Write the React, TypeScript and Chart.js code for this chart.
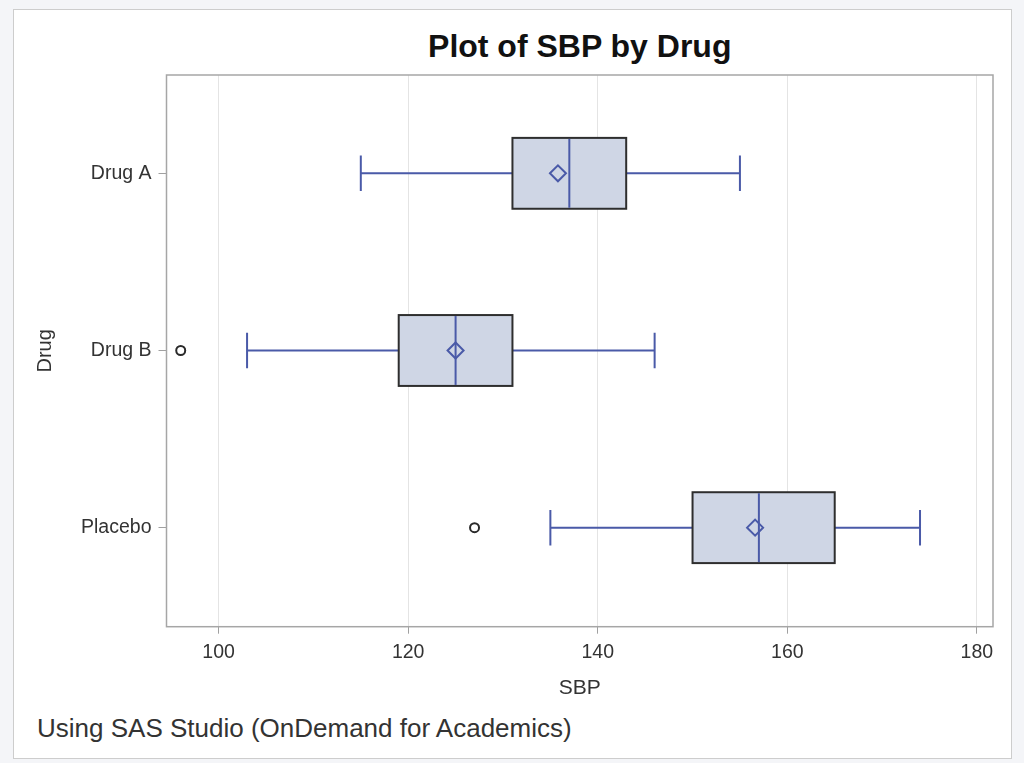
import React, { useEffect, useRef } from "react";
import { Chart, registerables } from "chart.js";

Chart.register(...registerables);

// ---- data ----
const categories = ["Drug A", "Drug B", "Placebo"];
const whiskerLow = [115, 103, 135];
const q1 = [131, 119, 150];
const median = [137, 125, 157];
const q3 = [143, 131, 165];
const whiskerHigh = [155, 146, 174];
const means = [135.8, 125, 156.6];
const outlierValues = [96, 127];
const outlierGroups = [1, 2];
const xTicks = [100, 120, 140, 160, 180];

const titleText = "Plot of SBP by Drug";
const footnoteText = "Using SAS Studio (OnDemand for Academics)";
const xTitle = "SBP";
const yTitle = "Drug";

// ---- style ----
const FONT = "'Liberation Sans', Arial, Helvetica, sans-serif";
const BLUE = "#4a5aa8";
const BOX_FILL = "#cfd6e5";
const BOX_EDGE = "#2e2e2e";
const BOX_HALF = 0.2;
const CAP_HALF = 0.1;

const boxPlugin = {
  id: "boxes",
  beforeDatasetsDraw(chart: any) {
    const { ctx, scales } = chart;
    const x = scales.x;
    const y = scales.y;
    ctx.save();
    categories.forEach((_, i) => {
      const yc = y.getPixelForValue(i);
      const yA = y.getPixelForValue(i - BOX_HALF);
      const yB = y.getPixelForValue(i + BOX_HALF);
      const bTop = Math.min(yA, yB);
      const bBot = Math.max(yA, yB);
      const cA = y.getPixelForValue(i - CAP_HALF);
      const cB = y.getPixelForValue(i + CAP_HALF);
      const cTop = Math.min(cA, cB);
      const cBot = Math.max(cA, cB);
      const xLo = x.getPixelForValue(whiskerLow[i]);
      const xQ1 = x.getPixelForValue(q1[i]);
      const xMed = x.getPixelForValue(median[i]);
      const xQ3 = x.getPixelForValue(q3[i]);
      const xHi = x.getPixelForValue(whiskerHigh[i]);

      // whiskers + caps
      ctx.strokeStyle = BLUE;
      ctx.lineWidth = 2;
      ctx.beginPath();
      ctx.moveTo(xLo, yc);
      ctx.lineTo(xQ1, yc);
      ctx.moveTo(xQ3, yc);
      ctx.lineTo(xHi, yc);
      ctx.moveTo(xLo, cTop);
      ctx.lineTo(xLo, cBot);
      ctx.moveTo(xHi, cTop);
      ctx.lineTo(xHi, cBot);
      ctx.stroke();

      // box
      ctx.fillStyle = BOX_FILL;
      ctx.fillRect(xQ1, bTop, xQ3 - xQ1, bBot - bTop);
      ctx.strokeStyle = BOX_EDGE;
      ctx.lineWidth = 2;
      ctx.strokeRect(xQ1, bTop, xQ3 - xQ1, bBot - bTop);

      // median
      ctx.strokeStyle = BLUE;
      ctx.lineWidth = 2;
      ctx.beginPath();
      ctx.moveTo(xMed, bTop + 1);
      ctx.lineTo(xMed, bBot - 1);
      ctx.stroke();
    });
    ctx.restore();
  },
  afterDraw(chart: any) {
    const { ctx, chartArea } = chart;
    ctx.save();
    ctx.strokeStyle = "#a6a6a6";
    ctx.lineWidth = 1.5;
    ctx.strokeRect(
      chartArea.left,
      chartArea.top,
      chartArea.right - chartArea.left,
      chartArea.bottom - chartArea.top
    );
    ctx.restore();
  },
};

export default function App() {
  const canvasRef = useRef<HTMLCanvasElement | null>(null);

  useEffect(() => {
    if (!canvasRef.current) return;
    const chart = new Chart(canvasRef.current, {
      type: "scatter",
      data: {
        datasets: [
          {
            label: "Mean",
            data: means.map((m, i) => ({ x: m, y: i })),
            pointStyle: "rectRot",
            pointRadius: 8,
            pointBorderWidth: 2,
            borderColor: BLUE,
            backgroundColor: "rgba(0,0,0,0)",
          },
          {
            label: "Outliers",
            data: outlierValues.map((v, i) => ({ x: v, y: outlierGroups[i] })),
            pointStyle: "circle",
            pointRadius: 4.5,
            pointBorderWidth: 2,
            borderColor: "#2a2a2a",
            backgroundColor: "rgba(0,0,0,0)",
          },
        ],
      },
      options: {
        animation: false,
        responsive: false,
        events: [],
        layout: { padding: { top: 19, right: 18, bottom: 0, left: 0 } },
        plugins: {
          legend: { display: false },
          tooltip: { enabled: false },
          title: { display: false },
        },
        scales: {
          x: {
            type: "linear",
            position: "bottom",
            min: 94.5,
            max: 181.7,
            afterBuildTicks: (scale: any) => {
              scale.ticks = xTicks.map((v) => ({ value: v }));
            },
            afterFit: (scale: any) => {
              scale.height = 78.3;
            },
            grid: {
              color: "#e4e4e4",
              lineWidth: 1,
              drawTicks: true,
              tickLength: 7,
              tickColor: "#a0a0a0",
            },
            border: { display: false },
            ticks: {
              padding: 7,
              color: "#333333",
              font: { family: FONT, size: 19.5 },
            },
            title: {
              display: true,
              text: xTitle,
              color: "#333333",
              font: { family: FONT, size: 21 },
              padding: { top: 0, bottom: 4.4 },
            },
          },
          y: {
            type: "linear",
            position: "left",
            reverse: true,
            min: -0.555,
            max: 2.559,
            afterBuildTicks: (scale: any) => {
              scale.ticks = categories.map((_, i) => ({ value: i }));
            },
            afterFit: (scale: any) => {
              scale.width = 152.5;
            },
            grid: {
              drawOnChartArea: false,
              drawTicks: true,
              tickLength: 8,
              tickColor: "#a0a0a0",
              color: "#a0a0a0",
            },
            border: { display: false },
            ticks: {
              padding: 7,
              color: "#333333",
              font: { family: FONT, size: 19.5 },
              callback: (v: any) => categories[Number(v)] ?? "",
            },
            title: {
              display: true,
              text: yTitle,
              color: "#333333",
              font: { family: FONT, size: 20 },
              padding: { top: 19, bottom: 0 },
            },
          },
        },
      },
      plugins: [boxPlugin],
    } as any);
    return () => chart.destroy();
  }, []);

  return (
    <div
      style={{
        position: "absolute",
        left: 0,
        top: 0,
        width: 1024,
        height: 763,
        background: "#f4f5f8",
        overflow: "hidden",
        fontFamily: FONT,
      }}
    >
      <div
        style={{
          position: "absolute",
          left: 13,
          top: 9,
          width: 999,
          height: 750,
          boxSizing: "border-box",
          border: "1px solid #cdcdcd",
          background: "#ffffff",
        }}
      />
      <div
        style={{
          position: "absolute",
          left: 166.5,
          width: 826.5,
          top: 26.6,
          height: 38,
          lineHeight: "38px",
          textAlign: "center",
          fontWeight: "bold",
          fontSize: 32,
          color: "#111111",
          whiteSpace: "nowrap",
        }}
      >
        {titleText}
      </div>
      <canvas
        ref={canvasRef}
        width={997}
        height={649}
        style={{ position: "absolute", left: 14, top: 56, width: 997, height: 649 }}
      />
      <div
        style={{
          position: "absolute",
          left: 37,
          top: 713,
          height: 30,
          lineHeight: "30px",
          fontSize: 26,
          color: "#333333",
          whiteSpace: "nowrap",
        }}
      >
        {footnoteText}
      </div>
    </div>
  );
}
